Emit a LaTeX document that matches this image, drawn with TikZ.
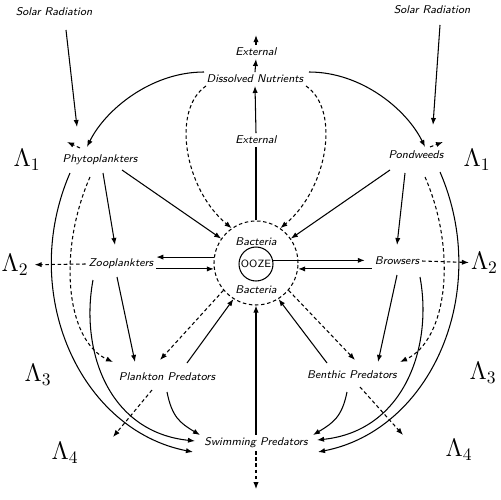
\documentclass[tikz,border=0pt]{standalone}
\usepackage{amsmath}
\usetikzlibrary{arrows.meta,calc}

\tikzset{
  word/.style={font=\fontsize{6.4}{7}\selectfont\sffamily\itshape, inner sep=1.5pt},
  lev/.style={font=\Large},
  feed/.style={line width=0.6pt, -{Latex[length=4pt,width=3pt]}},
  loss/.style={feed, dash pattern=on 2pt off 1.5pt},
}

\begin{document}
\begin{tikzpicture}[x=0.02cm,y=-0.02cm]
  \useasboundingbox (0,0) rectangle (500,500);

  % Sources
  \node[word] (solL) at (54,12) {Solar Radiation};
  \node[word] (solR) at (432,10) {Solar Radiation};
  \node[word] (extT) at (256,52) {External};
  \node[word] (nutr) at (255,79) {Dissolved Nutrients};
  \node[word] (extM) at (256,140) {External};

  % Producers and consumers
  \node[word] (phyto) at (100,160) {Phytoplankters};
  \node[word] (pond) at (416,155) {Pondweeds};
  \node[word] (zoo) at (121,264) {Zooplankters};
  \node[word] (brow) at (397,261) {Browsers};
  \node[word] (plank) at (167,377) {Plankton Predators};
  \node[word] (benth) at (352,375) {Benthic Predators};
  \node[word] (swim) at (256,443) {Swimming Predators};

  % Ooze and bacteria
  \node[circle, draw, line width=0.6pt, dash pattern=on 2pt off 1.5pt, minimum size=1.68cm] (bact) at (256,263) {};
  \node[circle, draw, line width=0.6pt, minimum size=0.68cm, inner sep=0pt, font=\fontsize{6}{7}\selectfont\sffamily] (ooze) at (256,264) {OOZE};
  \node[word] (bacU) at (256,242) {Bacteria};
  \node[word] (bacL) at (256,290) {Bacteria};

  % Trophic levels
  \node[lev] (L1l) at (27,160) {$\Lambda_1$};
  \node[lev] (L1r) at (477,160) {$\Lambda_1$};
  \node[lev] (L2l) at (15,265) {$\Lambda_2$};
  \node[lev, anchor=east, inner sep=1pt] (L2r) at (500,263) {$\Lambda_2$};
  \node[lev] (L3l) at (38,375) {$\Lambda_3$};
  \node[lev] (L3r) at (483,373) {$\Lambda_3$};
  \node[lev] (L4l) at (65,453) {$\Lambda_4$};
  \node[lev] (L4r) at (459,450) {$\Lambda_4$};

  % Energy input
  \draw[feed] ($(solL)+(12,18)$) -- ($(phyto)+(-23,-33)$);
  \draw[feed] ($(solR)+(8,15)$) -- ($(pond)+(17,-30)$);

  % Nutrients
  \draw[feed] (nutr.north) -- (extT.south);
  \draw[feed] (extT.north) -- ++(0,-10);
  \draw[line width=0.6pt] (bact.north) -- (extM.south);
  \draw[feed] (extM.north) -- (nutr.south);
  \draw[feed] ($(nutr)+(-51,-7)$) .. controls +(-53,0) and +(18,-37) .. ($(phyto)+(-13,-13)$);
  \draw[feed] ($(nutr)+(54,-7)$) .. controls +(53,0) and +(-18,-37) .. ($(pond)+(9,-8)$);
  \draw[loss] ($(nutr)+(-49,7)$) .. controls +(-35,24) and +(-47,-39) .. (bact.125);
  \draw[loss] ($(nutr)+(51,7)$) .. controls +(35,24) and +(47,-39) .. (bact.55);

  % Respiration ticks
  \draw[loss] ($(phyto)+(-20,-12)$) -- ($(phyto)+(-33,-18)$);
  \draw[loss] ($(pond)+(14,-8)$) -- ($(pond)+(27,-13)$);

  % Producers
  \draw[feed] ($(phyto)+(22,10)$) -- (bact.145);
  \draw[feed] ($(pond)+(-26,15)$) -- (bact.35);
  \draw[feed] ($(phyto)+(3,13)$) -- ($(zoo)+(-6,-19)$);
  \draw[feed] ($(pond)+(-11,18)$) -- ($(brow)+(0,-16)$);
  \draw[feed] ($(phyto)+(-30,13)$) .. controls +(-52,120) and +(-113,-22) .. ($(swim)+(-63,9)$);
  \draw[feed] ($(pond)+(24,17)$) .. controls +(52,120) and +(113,-22) .. ($(swim)+(62,9)$);
  \draw[loss] ($(phyto)+(-10,17)$) .. controls +(-32,73) and +(-48,-22) .. ($(plank)+(-54,-15)$);
  \draw[loss] ($(pond)+(9,22)$) .. controls +(32,73) and +(48,-22) .. ($(benth)+(48,-13)$);

  % Herbivores
  \draw[feed] (bact.172) -- (bact.172 -| zoo.east);
  \draw[feed] (zoo.east |- bact.188) -- (bact.188);
  \draw[feed, shorten >=4pt] (ooze.12) -- (ooze.12 -| brow.west);
  \draw[feed] (brow.west |- bact.-8) -- (bact.-8);
  \draw[loss] (zoo.west) -- (L2l);
  \draw[loss] (brow.east) -- (L2r);
  \draw[feed] ($(zoo)+(-28,16)$) .. controls +(-13,70) and +(-87,-9) .. ($(swim)+(-61,-2)$);
  \draw[feed] ($(brow)+(23,16)$) .. controls +(13,70) and +(87,-9) .. ($(swim)+(61,-3)$);
  \draw[feed] ($(zoo)+(-4,13)$) -- ($(plank)+(-32,-15)$);
  \draw[feed] ($(brow)+(0,14)$) -- ($(benth)+(26,-13)$);

  % Bacteria and predators
  \draw[loss] (bact.220) -- ($(plank)+(-7,-17)$);
  \draw[loss] (bact.-40) -- ($(benth)+(3,-15)$);
  \draw[feed] ($(plank)+(20,-14)$) -- (bact.238);
  \draw[feed] ($(benth)+(-25,-12)$) -- (bact.-58);
  \draw[feed] ($(plank)+(0,15)$) .. controls +(5,25) and +(-20,-12) .. ($(swim)+(-56,-8)$);
  \draw[feed] ($(benth)+(-5,17)$) .. controls +(-5,25) and +(20,-12) .. ($(swim)+(57,-8)$);
  \draw[loss] ($(plank)+(-15,13)$) -- ($(plank)+(-54,60)$);
  \draw[loss] ($(benth)+(8,12)$) -- ($(benth)+(51,60)$);

  % Swimming predators
  \draw[feed] (swim.north) -- (bact.south);
  \draw[loss] (swim.south) -- ++(0,38);
\end{tikzpicture}
\end{document}
